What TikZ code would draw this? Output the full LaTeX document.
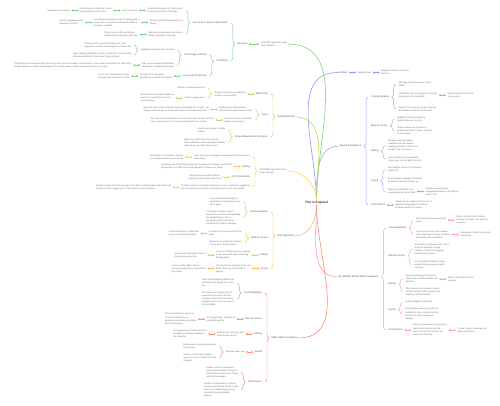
\documentclass[tikz,border=0pt]{standalone}
\usepackage{fontspec}
\setmainfont{Liberation Sans}
\usetikzlibrary{positioning,decorations.pathreplacing,arrows.meta,calc}
\definecolor{cgreen}{RGB}{126,211,126}
\definecolor{clime}{RGB}{184,220,90}
\definecolor{cyellow}{RGB}{255,210,80}
\definecolor{corange}{RGB}{255,190,80}
\definecolor{cred}{RGB}{255,140,115}
\definecolor{cpink}{RGB}{255,150,195}
\definecolor{cpurple}{RGB}{185,155,240}
\definecolor{cblue}{RGB}{140,155,245}
\definecolor{txtc}{RGB}{112,112,112}
\definecolor{midc}{RGB}{90,90,90}
\begin{document}
\begin{tikzpicture}[x=1pt,y=1pt,
  lf/.style={font=\fontsize{2.2}{3.05}\selectfont, text=txtc, inner sep=0.4pt, align=left},
  md/.style={font=\fontsize{2.45}{3}\selectfont, text=midc, inner sep=0.4pt, align=left},
  rt/.style={font=\fontsize{2.55}{3.1}\selectfont, text=midc, inner sep=0.4pt, align=left},
  ctr/.style={font=\bfseries\fontsize{3.1}{3.6}\selectfont, text=black!80, inner sep=0.5pt},
  brc/.style 2 args={draw=#1, line width=0.45pt, decorate, decoration={brace, amplitude=4pt, aspect=#2}},
  cn/.style={draw=#1, line width=0.5pt, {Triangle[length=1.5pt,width=2.2pt]}-{Triangle[length=1.5pt,width=2.2pt]}, shorten <=1pt, shorten >=1pt},
  cv/.style={draw=#1, line width=0.6pt}
]
\fill[white] (0,0) rectangle (500,-406);
\useasboundingbox (0,0) rectangle (500,-406);

% centre
\node[ctr] (c) at (316.5,-203) {This is England};

% ===== Context (blue)
\node[rt,anchor=west] (ctx) at (338,-72.5) {Context};
\node[lf,right=9pt of ctx] (ctx1) {Falklands war};
\node[lf,right=9pt of ctx1] (ctx2) {Margaret Thatcher as Prime\\Minister};
\draw[cn=cblue] (ctx.east) -- (ctx1.west);
\draw[cn=cblue] (ctx1.east) -- (ctx2.west);
\draw[cv=cblue] (c.north) to[out=90,in=180] (ctx.west);

% ===== Opening Sequence (purple)
\node[rt,anchor=west] (opR) at (339,-146) {Opening Sequence};
\node[md,anchor=west] (oc) at ($(opR.east)+(8.5,49)$) {Cinematography};
\node[md,anchor=west] (om) at ($(opR.east)+(8.5,20)$) {Mise En Scene};
\node[md,anchor=west] (oe) at ($(opR.east)+(8.5,-5)$) {Editing};
\node[md,anchor=west] (os) at ($(opR.east)+(8.5,-35)$) {Sound};
\node[md,anchor=west] (opf) at ($(opR.east)+(8.5,-59)$) {Performance};
\draw[brc={cpurple}{0.546}] ([xshift=-2.5pt]opf.west) -- ([xshift=-2.5pt]oc.west);
\draw[cv=cpurple] (c.north) to[out=90,in=180] (opR.west);

\node[lf,anchor=west] (oc1) at ($(oc.east)+(8.5,12.5)$) {Montage of historic events in the\\1980's};
\node[lf,anchor=west] (oc2) at ($(oc.east)+(8.5,2)$) {Hand Held camera footage recorded by\\journalists in the Falklands};
\node[lf,right=9pt of oc2] (oc2a) {Sets the tone of the film as\\social realist};
\node[lf,anchor=west] (oc3) at ($(oc.east)+(8.5,-12)$) {Series of close ups on Shaun entering\\Mr Sandhu's shop for the first time};
\draw[brc={cpurple}{0.49}] ([xshift=-2.5pt]oc3.west) -- ([xshift=-2.5pt]oc1.west);
\draw[cn=cpurple] (oc2.east) -- (oc2a.west);

\node[lf,anchor=west] (om1) at ($(om.east)+(8.5,7)$) {Soldiers uniforms presenting\\militant themes in the film};
\node[lf,anchor=west] (om2) at ($(om.east)+(8.5,-5)$) {Shaun's flares are a source of\\embarrassment for Shaun - leading\\to his bullying};
\draw[brc={cpurple}{0.417}] ([xshift=-2.5pt]om2.west) -- ([xshift=-2.5pt]om1.west);

\node[lf,anchor=west] (oe1) at ($(oe.east)+(8.5,5.5)$) {Montage editing between\\Falklands war and Diana's\\wedding, presents contrasts in\\society - war and royals};
\node[lf,anchor=west] (oe2) at ($(oe.east)+(8.5,-8)$) {Pace of editing increased when\\Shaun gets into the fight at school};
\draw[brc={cpurple}{0.593}] ([xshift=-2.5pt]oe2.west) -- ([xshift=-2.5pt]oe1.west);

\node[lf,anchor=west] (os1) at ($(os.east)+(8.5,11.5)$) {Non diegetic sound in the opening\\credits roll};
\node[lf,anchor=west] (os2) at ($(os.east)+(8.5,1)$) {Sound bridge of Margaret Thatcher\\on Shaun's radio as he gets up};
\node[lf,anchor=west] (os3) at ($(os.east)+(8.5,-10.5)$) {Fighting sound effects are\\exaggerated during the fight};
\node[lf,right=9pt of os3] (os3a) {Perhaps presenting the\\exaggerated impact of the fight on\\Shaun's life};
\draw[brc={cpurple}{0.477}] ([xshift=-2.5pt]os3.west) -- ([xshift=-2.5pt]os1.west);
\draw[cn=cpurple] (os3.east) -- (os3a.west);

\node[lf,right=9pt of opf] (opf1) {Falklands war soldiers and the use of\\genuine footage gives the film an\\extreme element of realism};
\draw[cn=cpurple] (opf.east) -- (opf1.west);

% ===== Mr Sandhu (pink)
\node[rt,anchor=west] (pkR) at (338,-277) {Mr Sandhu Racial Attack Sequence};
\node[md,anchor=west] (pc) at ($(pkR.east)+(8.5,49)$) {Cinematography};
\node[md,anchor=west] (pm) at ($(pkR.east)+(8.5,21)$) {Mise En Scene};
\node[md,anchor=west] (pe) at ($(pkR.east)+(8.5,-7)$) {Editing};
\node[md,anchor=west] (ps) at ($(pkR.east)+(8.5,-33)$) {Sound};
\node[md,anchor=west] (pp) at ($(pkR.east)+(8.5,-53)$) {Performance};
\draw[brc={cpink}{0.52}] ([xshift=-2.5pt]pp.west) -- ([xshift=-2.5pt]pc.west);
\draw[cv=cpink] (c.south) to[out=-90,in=180] (pkR.west);

\node[lf,anchor=west] (pc1) at ($(pc.east)+(8.5,8)$) {Mid shot of Shaun entering the\\shop};
\node[lf,right=9pt of pc1] (pc1a) {Mirrors the first shot of Shaun\\entering the shop in the opening\\sequence};
\node[lf,anchor=west] (pc2) at ($(pc.east)+(8.5,-6.5)$) {Close ups and over the shoulder\\shots used when Combo threatens\\Mr Sandhu with a machete};
\node[lf,right=9pt of pc2] (pc2a) {Symbolises Combo's dominant\\masculinity};
\draw[brc={cpink}{0.448}] ([xshift=-2.5pt]pc2.west) -- ([xshift=-2.5pt]pc1.west);
\draw[cn=cpink] (pc1.east) -- (pc1a.west);
\draw[cn=cpink] (pc2.east) -- (pc2a.west);

\node[lf,anchor=west] (pm1) at ($(pm.east)+(8.5,6.5)$) {Mr Sandhu's cluttered props, which\\imply his passivity through\\clothing, contrast to the gang's\\threatening costumes};
\node[lf,anchor=west] (pm2) at ($(pm.east)+(8.5,-9)$) {Use of graffiti outside the shop,\\implies that the gang are quite\\notorious};
\draw[brc={cpink}{0.58}] ([xshift=-2.5pt]pm2.west) -- ([xshift=-2.5pt]pm1.west);

\node[lf,anchor=west] (pe1) at ($(pe.east)+(8.5,5)$) {Fast paced editing for dramatic\\effect when Combo threatens Mr\\Sandhu};
\node[lf,right=9pt of pe1] (pe1a) {Adds to the intensity of the\\situation};
\node[lf,anchor=west] (pe2) at ($(pe.east)+(8.5,-8)$) {Shot reverse shot between Combo\\and Mr Sandhu further presents his\\inability to defend himself};
\draw[brc={cpink}{0.615}] ([xshift=-2.5pt]pe2.west) -- ([xshift=-2.5pt]pe1.west);
\draw[cn=cpink] (pe1.east) -- (pe1a.west);

\node[lf,anchor=west] (ps1) at ($(ps.east)+(8.5,8)$) {Entirely diegetic sequences};
\node[lf,anchor=west] (ps2) at ($(ps.east)+(8.5,-4)$) {Sound bridge between inside and\\outside the shop - emphasises the\\importance of the sequences\\dialogue};
\draw[brc={cpink}{0.333}] ([xshift=-2.5pt]ps2.west) -- ([xshift=-2.5pt]ps1.west);

\node[lf,right=9pt of pp] (pp1) {Shaun is presented as enjoying the\\attack as he joins in with the\\abuse, we see this as they run\\away from the shop};
\node[lf,right=9pt of pp1] (pp1a) {Proves Combo's ideology has\\influenced Shaun};
\draw[cn=cpink] (pp.east) -- (pp1.west);
\draw[cn=cpink] (pp1.east) -- (pp1a.west);

% ===== Narrative (green)
\node[lf,anchor=west] (gR) at (260,-44) {UPDATED Specialist Study\\Area: Narrative};
\node[md,left=12pt of gR] (gN) {Narrative};
\draw[cn=cgreen] (gN.east) -- (gR.west);
\draw[cv=cgreen] (c.north) to[out=90,in=0] (gR.east);
\node[md,anchor=east] (gL) at ($(gN.west)+(-8.5,21)$) {Levi Strauss' Binary Oppositions};
\node[md,anchor=east] (gF) at ($(gN.west)+(-8.5,-17)$) {Formalism};
\draw[brc={cgreen}{0.553}] ([xshift=2.5pt]gL.east) -- ([xshift=2.5pt]gF.east);

\node[lf,anchor=east] (gL1) at ($(gL.west)+(-8.5,12.5)$) {Dominant Masculine VS Submissive\\Masculine (Combo VS Woody)};
\node[lf,left=9pt of gL1] (gL1a) {Mirror of Shaun};
\node[lf,left=9pt of gL1a] (gL1b) {Racist attack on Milky by Combo\\towards the end of the film};
\node[lf,left=9pt of gL1b] (gL1c) {Naturalism Of Location};
\draw[cn=cgreen] (gL1a.east) -- (gL1.west);
\draw[cn=cgreen] (gL1b.east) -- (gL1a.west);
\draw[cn=cgreen] (gL1c.east) -- (gL1b.west);
\node[lf,anchor=east] (gL2) at ($(gL.west)+(-8.5,0.5)$) {Positive VS Negative influence on\\Shaun};
\node[lf,left=9pt of gL2] (gL2a) {Levi Strauss argued one side of a binary pair is\\always seen as positive whereas the other is\\viewed as negative};
\node[lf,left=9pt of gL2a] (gL2b) {Shaun's allegiance shifts\\throughout the film};
\draw[cn=cgreen] (gL2a.east) -- (gL2.west);
\draw[cn=cgreen] (gL2b.east) -- (gL2a.west);
\node[lf,anchor=east] (gL3) at ($(gL.west)+(-8.5,-11.5)$) {Symbolic juxtapositions that have a\\deeper ideological meaning};
\node[lf,left=9pt of gL3] (gL3a) {They create conflict and drama\\entwined with elements of the form};
\draw[cn=cgreen] (gL3a.east) -- (gL3.west);
\draw[brc={cgreen}{0.52}] ([xshift=2.5pt]gL1.east) -- ([xshift=2.5pt]gL3.east);

\node[md,anchor=east] (gF1) at ($(gF.west)+(-8.5,6)$) {Chronology and time};
\node[md,anchor=east] (gF2) at ($(gF.west)+(-8.5,-15)$) {Voice and Perspective};
\draw[brc={cgreen}{0.286}] ([xshift=2.5pt]gF1.east) -- ([xshift=2.5pt]gF2.east);
\node[lf,anchor=east] (gF1a) at ($(gF1.west)+(-8.5,5)$) {Ambiguous ending to the narrative};
\node[lf,anchor=east] (gF1b) at ($(gF1.west)+(-8.5,-10)$) {Little use of analepsis (flashback)\\and follows a traditional structure};
\draw[brc={cgreen}{0.333}] ([xshift=2.5pt]gF1a.east) -- ([xshift=2.5pt]gF1b.east);
\node[lf,left=9pt of gF1b] (gF1b1) {The film forms a naturalistic plot which is cyclical, as the narrative is presented in a way within a world like our own that is\\divided between our political ideologies that in itself causes conflict across all sections of society};
\draw[cn=cgreen] (gF1b1.east) -- (gF1b.west);
\node[lf,anchor=east] (ga1) at ($(gF1a.west)+(-8.5,5)$) {Audience left to wonder if Milky is ok, what\\happens to Combo, what happens to Shaun etc};
\node[lf,anchor=east] (ga2) at ($(gF1a.west)+(-8.5,-5)$) {Open ending symbolises real life, as real life is never neatly\\resolved and doesn't often have happy endings};
\draw[brc={cgreen}{0.5}] ([xshift=2.5pt]ga1.east) -- ([xshift=2.5pt]ga2.east);
\node[lf,left=9pt of gF2] (gF2a) {The director's naturalistic\\perspective is evident throughout};
\node[lf,left=9pt of gF2a] (gF2b) {In this case the narrative is told\\through a personal point of view};
\draw[cn=cgreen] (gF2a.east) -- (gF2.west);
\draw[cn=cgreen] (gF2b.east) -- (gF2a.west);

% ===== Representation (lime)
\node[rt,anchor=west] (lR) at (277,-117) {Representation};
\draw[cv=clime] (c.north) to[out=90,in=0] (lR.east);
\node[md,anchor=east] (lM) at ($(lR.west)+(-8.5,23)$) {Masculinity};
\node[md,anchor=east] (lC) at ($(lR.west)+(-8.5,2)$) {Class};
\node[md,anchor=east] (lS) at ($(lR.west)+(-8.5,-20)$) {Shane Meadows as an Auteur};
\draw[brc={clime}{0.535}] ([xshift=2.5pt]lM.east) -- ([xshift=2.5pt]lS.east);

\node[lf,left=9pt of lM] (lM1) {Woody and Combo are different\\versions of masculinity};
\draw[cn=clime] (lM1.east) -- (lM.west);
\node[lf,anchor=east] (lMa) at ($(lM1.west)+(-8.5,6)$) {Woody is nurturing and kind};
\node[lf,anchor=east] (lMb) at ($(lM1.west)+(-8.5,-4)$) {Combo is aggressive};
\draw[brc={clime}{0.6}] ([xshift=2.5pt]lMa.east) -- ([xshift=2.5pt]lMb.east);
\node[lf,left=9pt of lMb] (lMb1) {He wants to use Shaun's father as\\means to convert Shaun to his\\racist ideology};
\draw[cn=clime] (lMb1.east) -- (lMb.west);

\node[lf,anchor=east] (lC1) at ($(lC.west)+(-8.5,5.5)$) {Working class backgrounds\\presented through mise-en-scene};
\node[lf,left=9pt of lC1] (lC1a) {Hand me down clothes (Shaun's flares), MacGuffin for the plot - the\\trousers drive the plot as he wouldn't have met Woody otherwise};
\draw[cn=clime] (lC1a.east) -- (lC1.west);
\node[lf,anchor=east] (lC2) at ($(lC.west)+(-8.5,-5)$) {None of the main characters\\appear to have jobs};
\node[lf,left=9pt of lC2] (lC2a) {The only main character we see with a job is Mr Sandhu, which is\\ironic seeing as he is the only one working for the country};
\draw[cn=clime] (lC2a.east) -- (lC2.west);
\draw[brc={clime}{0.524}] ([xshift=2.5pt]lC1.east) -- ([xshift=2.5pt]lC2.east);

\node[lf,anchor=east] (lS1) at ($(lS.west)+(-8.5,7)$) {Hand Held camera to create\\realism};
\node[lf,anchor=east] (lS2) at ($(lS.west)+(-8.5,-5.5)$) {Bases the stories off of his own life;\\Shane Meadows often represents families\\and makes use of the same actors};
\draw[brc={clime}{0.56}] ([xshift=2.5pt]lS1.east) -- ([xshift=2.5pt]lS2.east);

% ===== Ideology (yellow)
\node[lf,anchor=west] (yR) at (259,-171) {UPDATED Specialist Study\\Area: Ideology};
\draw[cv=cyellow] (c.north) to[out=90,in=0] (yR.east);
\node[lf,anchor=east] (yC1) at ($(yR.west)+(-8.5,14)$) {Clear anti racist message through presenting Combo as a\\violent bully};
\node[md,anchor=east] (yC2) at ($(yR.west)+(-8.5,4.5)$) {Setting};
\node[md,anchor=east] (yC3) at ($(yR.west)+(-8.5,-6)$) {Anti Thatcherism};
\node[lf,anchor=east] (yC4) at ($(yR.west)+(-8.5,-16)$) {The film creates a world that replicates our own realistically suggesting\\the film makers want people to ask questions of their own beliefs};
\draw[brc={cyellow}{0.467}] ([xshift=2.5pt]yC1.east) -- ([xshift=2.5pt]yC4.east);
\node[lf,left=9pt of yC1] (yC1a) {Nationalism Vs Socialism, positive\\and negative influences on Shaun};
\node[lf,left=9pt of yC2] (yC2a) {Disturbing use of archival footage and the direct link between events that\\happened in the 1980s and what happens to Shaun as a result};
\node[lf,left=9pt of yC3] (yC3a) {Through the presentation of the\\tough economic times they live in};
\node[lf,left=9pt of yC4] (yC4a) {Evident through the final message in the film as Shaun breaks the fourth wall\\almost as if he is begging us to not make the same mistakes};
\draw[cn=cyellow] (yC1a.east) -- (yC1.west);
\draw[cn=cyellow] (yC2a.east) -- (yC2.west);
\draw[cn=cyellow] (yC3a.east) -- (yC3.west);
\draw[cn=cyellow] (yC4a.east) -- (yC4.west);

% ===== End Sequence (orange)
\node[rt,anchor=west] (eR) at (277,-236) {End Sequence};
\draw[cv=corange] (c.south) to[out=-90,in=0] (eR.east);
\node[md,anchor=east] (eC) at ($(eR.west)+(-8.5,24)$) {Cinematography};
\node[md,anchor=east] (eM) at ($(eR.west)+(-8.5,-2)$) {Mise En Scene};
\node[md,anchor=east] (eE) at ($(eR.west)+(-8.5,-19)$) {Editing};
\node[md,anchor=east] (eS) at ($(eR.west)+(-8.5,-32.5)$) {Sound};
\draw[brc={corange}{0.425}] ([xshift=2.5pt]eC.east) -- ([xshift=2.5pt]eS.east);

\node[lf,anchor=east] (eC1) at ($(eC.west)+(-8.5,10.5)$) {Long overhead tracking shot\\emphasises how Shaun is now\\alone again};
\node[lf,anchor=east] (eC2) at ($(eC.west)+(-8.5,-6)$) {Close ups of Shaun used to\\express his actions in disregarding\\the English flag as if he is\\disregarding and separating\\himself from Combo's ideology};
\draw[brc={corange}{0.636}] ([xshift=2.5pt]eC1.east) -- ([xshift=2.5pt]eC2.east);

\node[lf,anchor=east] (eM1) at ($(eM.west)+(-8.5,4.5)$) {St George's Cross tossed into the\\water};
\node[lf,left=9pt of eM1] (eM1a) {Demonstrates loss of faith and\\rejection of nationalist ideals};
\node[lf,anchor=east] (eM2) at ($(eM.west)+(-8.5,-5)$) {Broken boat symbolises Shaun's\\now `broken' English ideals};
\draw[brc={corange}{0.474}] ([xshift=2.5pt]eM1.east) -- ([xshift=2.5pt]eM2.east);
\draw[cn=corange] (eM1a.east) -- (eM1.west);

\node[lf,left=9pt of eE] (eE1) {Long cut of Shaun as he is walking\\away, along with shots of the flag\\floating away};
\node[lf,left=9pt of eE1] (eE2) {Represents nationalist influence\\floating away from him};
\draw[cn=corange] (eE1.east) -- (eE.west);
\draw[cn=corange] (eE2.east) -- (eE1.west);

\node[lf,left=9pt of eS] (eS1) {`Please, Please, Please Let Me Get\\What I Want' by The Smiths is\\playing};
\node[lf,left=9pt of eS1] (eS2) {Lyrics actually reflect Shaun's\\journey and how he is manipulated\\by Combo};
\draw[cn=corange] (eS1.east) -- (eS.west);
\draw[cn=corange] (eS2.east) -- (eS1.west);

% ===== Milky sequence (red)
\node[rt,anchor=west] (rR) at (271,-338) {Milky Attack Sequence};
\draw[cv=cred] (c.south) to[out=-90,in=0] (rR.east);
\node[md,anchor=east] (rC) at ($(rR.west)+(-8.5,45)$) {Cinematography};
\node[md,anchor=east] (rM) at ($(rR.west)+(-8.5,19)$) {Mise En Scene};
\node[md,anchor=east] (rE) at ($(rR.west)+(-8.5,4)$) {Editing};
\node[md,anchor=east] (rS) at ($(rR.west)+(-8.5,-14)$) {Sound};
\node[md,anchor=east] (rP) at ($(rR.west)+(-8.5,-44)$) {Performance};
\draw[brc={cred}{0.506}] ([xshift=2.5pt]rC.east) -- ([xshift=2.5pt]rP.east);

\node[lf,anchor=east] (rC1) at ($(rC.west)+(-8.5,10)$) {Grey and dull lighting reflects the\\atmosphere of oppression in the\\flat};
\node[lf,anchor=east] (rC2) at ($(rC.west)+(-8.5,-6)$) {We initially see a group shot of\\everyone in the room, but this\\changes when Combo becomes\\enraged and we see close ups of\\him and Milky};
\draw[brc={cred}{0.625}] ([xshift=2.5pt]rC1.east) -- ([xshift=2.5pt]rC2.east);

\node[lf,left=9pt of rM] (rM1) {St George's flag - symbolic of\\nationalist identity};
\node[lf,left=9pt of rM1] (rM2) {The fact that Shaun gave it to\\Combo presents him as\\embodying and idolising Combo\\and his ideologies};
\draw[cn=cred] (rM1.east) -- (rM.west);
\draw[cn=cred] (rM2.east) -- (rM1.west);

\node[lf,left=9pt of rE] (rE1) {Minimal cuts, all in one take\\which builds tension};
\node[lf,left=9pt of rE1] (rE2) {Cuts begin when Combo becomes\\enraged, presenting instability in\\the character};
\draw[cn=cred] (rE1.east) -- (rE.west);
\draw[cn=cred] (rE2.east) -- (rE1.west);

\node[lf,left=9pt of rS] (rS1) {Diegetic audio only};
\draw[cn=cred] (rS1.east) -- (rS.west);
\node[lf,anchor=east] (rS1a) at ($(rS1.west)+(-8.5,6)$) {Emphasises an uneasy feel about\\the situation};
\node[lf,anchor=east] (rS1b) at ($(rS1.west)+(-8.5,-6)$) {Volume of the audio changes\\quite a lot when Combo becomes\\enraged};
\draw[brc={cred}{0.5}] ([xshift=2.5pt]rS1a.east) -- ([xshift=2.5pt]rS1b.east);

\node[lf,anchor=east] (rP1) at ($(rP.west)+(-8.5,9.5)$) {Combo could be considered\\insecure and volatile through his\\rapid shift in emotion from caring\\and kind to enraged};
\node[lf,anchor=east] (rP2) at ($(rP.west)+(-8.5,-8)$) {Combo is manipulative, as Shaun\\becomes tempted by him for a safe\\haven he is influencing a young\\mind with his questionable\\opinions};
\draw[brc={cred}{0.543}] ([xshift=2.5pt]rP1.east) -- ([xshift=2.5pt]rP2.east);
\end{tikzpicture}
\end{document}
